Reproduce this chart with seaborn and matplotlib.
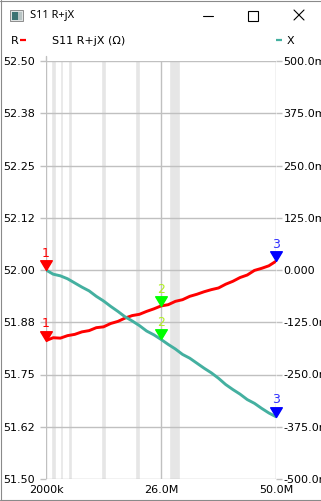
import numpy as np
import matplotlib
matplotlib.use("Agg")
import matplotlib.pyplot as plt
from matplotlib.path import Path
from matplotlib.patches import Rectangle
import pandas as pd
import seaborn as sns

# ---------------- data ----------------
freq_mhz = [2.0, 3.5, 5.0, 6.5, 8.0, 9.5, 11.0, 12.5, 14.0, 15.5, 17.0,
            18.5, 20.0, 21.5, 23.0, 24.5, 26.0, 27.5, 29.0, 30.5, 32.0,
            33.5, 35.0, 36.5, 38.0, 39.5, 41.0, 42.5, 44.0, 45.5, 47.0,
            48.5, 50.0]
r_ohm = [51.831, 51.838, 51.837, 51.843, 51.846, 51.852, 51.855, 51.862,
         51.864, 51.872, 51.877, 51.885, 51.891, 51.894, 51.901, 51.907,
         51.914, 51.917, 51.925, 51.929, 51.937, 51.942, 51.948, 51.953,
         51.957, 51.966, 51.973, 51.982, 51.988, 51.999, 52.004, 52.010,
         52.021]
x_ohm = [0.000, -0.010, -0.014, -0.021, -0.031, -0.041, -0.050, -0.063,
         -0.074, -0.087, -0.099, -0.112, -0.122, -0.133, -0.146, -0.155,
         -0.166, -0.178, -0.189, -0.202, -0.211, -0.223, -0.235, -0.246,
         -0.259, -0.274, -0.286, -0.297, -0.310, -0.319, -0.331, -0.342,
         -0.351]

left_ticks = [51.5, 51.625, 51.75, 51.875, 52.0, 52.125, 52.25, 52.375, 52.5]
left_labels = ["51.50", "51.62", "51.75", "51.88", "52.00", "52.12", "52.25", "52.38", "52.50"]
right_ticks = [-0.5, -0.375, -0.25, -0.125, 0.0, 0.125, 0.25, 0.375, 0.5]
right_labels = ["-500.0m", "-375.0m", "-250.0m", "-125.0m", "0.000", "125.0m", "250.0m", "375.0m", "500.0m"]
x_ticks = [2.0, 26.0, 50.0]
x_labels = ["2000k", "26.0M", "50.0M"]

bands = [(3.5, 3.8), (5.3515, 5.3665), (7.0, 7.2), (14.0, 14.35), (21.0, 21.45), (28.0, 29.7)]

marker_freqs = [2.0, 26.0, 50.0]
marker_names = ["1", "2", "3"]
marker_colors = ["#ff0000", "#00ff00", "#0000ff"]
marker_text_colors = ["#ff0000", "#b0f020", "#3030ff"]

title_text = "S11 R+jX"
chart_title = "S11 R+jX (\u03a9)"

# ---------------- style ----------------
sns.set_theme(style="white")
plt.rcParams['font.family'] = ['DejaVu Sans']

W, H = 321, 501
fig = plt.figure(figsize=(W / 100, H / 100), dpi=100, facecolor="white")

L, R, T, B = 46, 276, 61, 479
ax = fig.add_axes([L / W, 1 - B / H, (R - L) / W, (B - T) / H])
ax.set_facecolor("white")

grid_c = "#c0c0c0"
band_c = "#e6e6e6"
r_color = "#ff0000"
x_color = "#44b0a0"

for lo, hi in bands:
    ax.axvspan(lo, hi, color=band_c, lw=1.2, ec=band_c, zorder=0.1)

df = pd.DataFrame({"freq": freq_mhz, "R": r_ohm, "X": x_ohm})
sns.lineplot(data=df, x="freq", y="R", ax=ax, color=r_color, lw=2.1, zorder=3)

ax.set_xlim(2.0, 50.0)
ax.set_ylim(51.5, 52.5)
ax.set_yticks(left_ticks)
ax.set_yticklabels(left_labels)
ax.set_xticks(x_ticks)
ax.set_xticklabels(x_labels)
ax.set_xlabel("")
ax.set_ylabel("")
ax.grid(True, color=grid_c, lw=1.0)
ax.set_axisbelow(True)
for s in ax.spines.values():
    s.set_visible(False)
ax.tick_params(axis="y", which="both", left=True, length=4.4, width=1.0, color=grid_c,
               pad=3.4, labelsize=8, labelcolor="black")
ax.tick_params(axis="x", which="both", bottom=False, length=0, pad=4.2,
               labelsize=8, labelcolor="black")

ax2 = ax.twinx()
sns.lineplot(data=df, x="freq", y="X", ax=ax2, color=x_color, lw=2.1, zorder=3)
ax2.set_ylim(-0.5, 0.5)
ax2.set_yticks(right_ticks)
ax2.set_yticklabels(right_labels)
ax2.set_ylabel("")
ax2.grid(False)
for s in ax2.spines.values():
    s.set_visible(False)
ax2.tick_params(axis="y", right=True, length=4.4, width=1.0, color=grid_c, pad=1.0,
                labelsize=8, labelcolor="black")

# markers (tip at data point)
tri = Path([(-0.6, 1.0), (0.6, 1.0), (0.0, 0.0), (-0.6, 1.0)],
           [Path.MOVETO, Path.LINETO, Path.LINETO, Path.CLOSEPOLY])
for f, name, mc, tc in zip(marker_freqs, marker_names, marker_colors, marker_text_colors):
    i = freq_mhz.index(f)
    for a, yv in ((ax, r_ohm[i]), (ax2, x_ohm[i])):
        a.plot([f], [yv], marker=tri, ms=14, color=mc, mec=mc, ls="none", zorder=5, clip_on=False)
        a.annotate(name, (f, yv), xytext=(0, 9.6), textcoords="offset points",
                   ha="center", va="baseline", fontsize=9, color=tc, zorder=6,
                   annotation_clip=False)

# ---------------- window chrome overlay ----------------
ov = fig.add_axes([0, 0, 1, 1], zorder=-1)
ov.set_xlim(0, W)
ov.set_ylim(H, 0)
ov.axis("off")
ov.patch.set_alpha(0)

# border
ov.plot([0.5, 0.5], [0, 499.5], color="#8a8a8a", lw=0.8)
ov.plot([0, W], [0.5, 0.5], color="#8a8a8a", lw=0.8)
ov.plot([0, W], [499.5, 499.5], color="#8a8a8a", lw=0.8)

# icon
ov.add_patch(Rectangle((10, 10), 13, 11, fc="#dfe3e3", ec="#8c8c8c", lw=0.7))
ov.add_patch(Rectangle((11.5, 11.5), 6, 8, fc="#3d7373", ec="none"))
ov.add_patch(Rectangle((18, 11.5), 3.5, 8, fc="#b8c4c4", ec="none"))
ov.text(30, 15.5, title_text, fontsize=8, family="Noto Sans", va="center", ha="left", color="black")
# minimize / maximize / close
ov.plot([203, 213], [15.5, 15.5], color="black", lw=0.8)
ov.add_patch(Rectangle((247.5, 10.5), 10, 10, fc="none", ec="black", lw=0.8))
ov.plot([294, 304], [10, 20], color="black", lw=0.8)
ov.plot([294, 304], [20, 10], color="black", lw=0.8)

# legend row
ov.text(11, 41, "R", fontsize=8, va="center", ha="left", color="black")
ov.plot([20, 26], [40, 40], color=r_color, lw=1.6, solid_capstyle="butt")
ov.text(52, 41, chart_title, fontsize=8, va="center", ha="left", color="black")
ov.plot([276, 282], [40, 40], color=x_color, lw=1.6, solid_capstyle="butt")
ov.text(287, 41, "X", fontsize=8, va="center", ha="left", color="black")

# left axis line stub above top
ov.plot([46, 46], [56, 61], color=grid_c, lw=1.0)

fig.savefig("out.png", dpi=100, facecolor="white")
